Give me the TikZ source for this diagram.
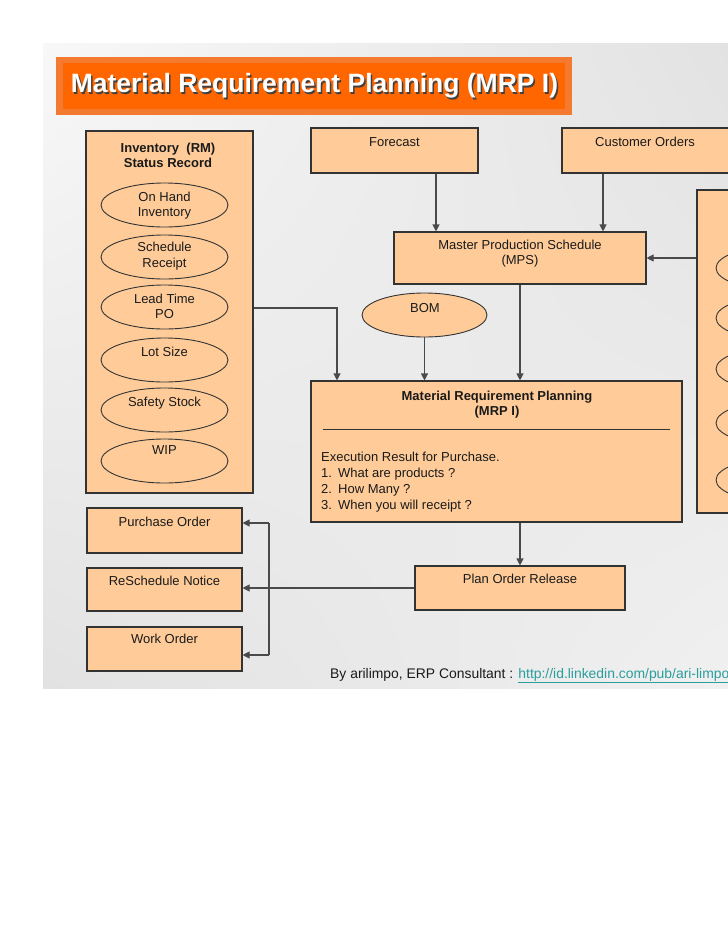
\documentclass[tikz,border=0pt]{standalone}
\usepackage{fontspec}
\setmainfont{Liberation Sans}
\usetikzlibrary{arrows.meta,shapes.geometric,shadings}
\definecolor{peach}{HTML}{FFCC99}
\definecolor{obar}{HTML}{F47A30}
\definecolor{ibar}{HTML}{FF6600}
\definecolor{edgec}{HTML}{333333}
\definecolor{arr}{HTML}{4A4A4A}
\definecolor{linkc}{HTML}{2A9D9D}
\definecolor{txtc}{HTML}{1A1A1A}
\definecolor{bgul}{HTML}{F8F8F8}
\definecolor{bgur}{HTML}{E2E2E2}
\definecolor{bgll}{HTML}{E2E2E2}
\definecolor{bglr}{HTML}{F0F0F0}
\begin{document}
\begin{tikzpicture}[x=1pt,y=-1pt,
  box/.style={draw=edgec, line width=1.1pt, fill=peach, rectangle, inner sep=0pt},
  ell/.style={draw=edgec, line width=0.9pt, fill=peach, ellipse, inner sep=0pt, minimum width=127pt, minimum height=44pt},
  txt/.style={font=\fontsize{13}{15.5}\selectfont, align=center, inner sep=0pt, text=txtc},
  btxt/.style={font=\fontsize{13}{15.5}\selectfont\bfseries, align=center, inner sep=0pt, text=txtc},
  conn/.style={draw=arr, line width=1.1pt, -{Triangle[length=7pt,width=7pt]}},
  plain/.style={draw=arr, line width=1.1pt},
  ttl/.style={font=\fontsize{26.5}{30}\selectfont\bfseries, inner sep=0pt}]
\useasboundingbox (0,0) rectangle (728,943);
\fill[white] (0,0) rectangle (728,943);
\begin{scope}
\clip (0,0) rectangle (728,943);
% background
\shade[upper left=bgul, upper right=bgur, lower left=bgll, lower right=bglr] (43,43) rectangle (728,688);
% title bar
\fill[obar] (56,57) rectangle (572,115);
\fill[ibar] (63,63) rectangle (565,109);
\node[ttl, text=black!75] (tsh) at (316,87.5) {Material Requirement Planning (MRP I)};
\node[ttl, text=white] (title) at (314.5,86) {Material Requirement Planning (MRP I)};
% inventory box
\node[box, minimum width=167pt, minimum height=362pt] (inv) at (169.5,312) {};
\node[btxt] (invt) at (168,155.5) {Inventory\ \ (RM)\\Status Record};
\node[ell] (e1) at (164.5,205) {};
\node[ell] (e2) at (164.5,257) {};
\node[ell] (e3) at (164.5,307) {};
\node[ell] (e4) at (164.5,360) {};
\node[ell] (e5) at (164.5,410) {};
\node[ell] (e6) at (164.5,461) {};
\node[txt] (e1t) at (164.5,205.5) {On Hand\\Inventory};
\node[txt] (e2t) at (164.5,256) {Schedule\\Receipt};
\node[txt] (e3t) at (164.5,306.5) {Lead Time\\PO};
\node[txt] (e4t) at (164.5,352) {Lot Size};
\node[txt] (e5t) at (164.5,403) {Safety Stock};
\node[txt] (e6t) at (164.5,450) {WIP};
% top boxes
\node[box, minimum width=167pt, minimum height=45pt] (fc) at (394.5,150.5) {};
\node[txt] (fct) at (394.5,142) {Forecast};
\node[box, minimum width=167pt, minimum height=45pt] (co) at (645.5,150.5) {};
\node[txt] (cot) at (645,142) {Customer Orders};
\node[box, minimum width=252pt, minimum height=52pt] (mps) at (520,258) {};
\node[txt] (mpst) at (520,253.5) {Master Production Schedule\\(MPS)};
% right box
\node[box, minimum width=167pt, minimum height=323pt] (rb) at (780.5,351.5) {};
\node[ell] (r1) at (779.5,268) {};
\node[ell] (r2) at (779.5,318) {};
\node[ell] (r3) at (779.5,369) {};
\node[ell] (r4) at (779.5,423) {};
\node[ell] (r5) at (779.5,480) {};
% BOM
\node[ell, minimum width=125pt] (bom) at (424.5,315) {};
\node[txt] (bomt) at (425,308) {BOM};
% MRP box
\node[box, minimum width=371pt, minimum height=141pt] (mrp) at (496.5,451.5) {};
\node[btxt] (mrpt) at (497,404.5) {Material Requirement Planning\\(MRP I)};
\draw[edgec, line width=0.9pt] (323,429) -- (670,429);
\node[txt, align=left, anchor=north west, font=\fontsize{13}{15.7}\selectfont] (mrpl) at (321,452.3)
 {Execution Result for Purchase.\\\makebox[17pt][l]{1.}What are products ?\\\makebox[17pt][l]{2.}How Many ?\\\makebox[17pt][l]{3.}When you will receipt ?};
% Plan order release
\node[box, minimum width=210pt, minimum height=44pt] (por) at (520,588) {};
\node[txt] (port) at (520,579) {Plan Order Release};
% output boxes
\node[box, minimum width=155pt, minimum height=45pt] (po) at (164.5,530.5) {};
\node[txt] (pot) at (164.5,522) {Purchase Order};
\node[box, minimum width=155pt, minimum height=43pt] (rs) at (164.5,589.5) {};
\node[txt] (rst) at (164.5,581) {ReSchedule Notice};
\node[box, minimum width=155pt, minimum height=44pt] (wo) at (164.5,649) {};
\node[txt] (wot) at (164.5,639) {Work Order};
% connectors
\draw[conn] ([xshift=41.5pt]fc.south) -- ([xshift=-84pt]mps.north);
\draw[conn] ([xshift=-42.5pt]co.south) -- ([xshift=83pt]mps.north);
\draw[conn] (rb.west |- mps.east) -- (mps.east);
\draw[conn] (mps.south) -- (mps.south |- mrp.north);
\draw[conn] (bom.south) -- (bom.south |- mrp.north);
\draw[conn] ([yshift=4pt]inv.east) -| ([xshift=-159.5pt]mrp.north);
\draw[conn] (mrp.south -| por.north) -- (por.north);
\draw[conn] (por.west) -- (por.west -| rs.east);
\coordinate (bt) at (269,523);
\coordinate (bb) at (269,655);
\draw[plain] (bt) -- (bb);
\draw[conn] (bt) -- (bt -| po.east);
\draw[conn] (bb) -- (bb -| wo.east);
% footer
\node[anchor=base west, inner sep=0pt, font=\fontsize{13.9}{16}\selectfont, text=txtc] (foot) at (330,678)
 {By arilimpo, ERP Consultant : \textcolor{linkc}{\underline{http://id.linkedin.com/pub/ari-limpo}}};
\end{scope}
\end{tikzpicture}
\end{document}
